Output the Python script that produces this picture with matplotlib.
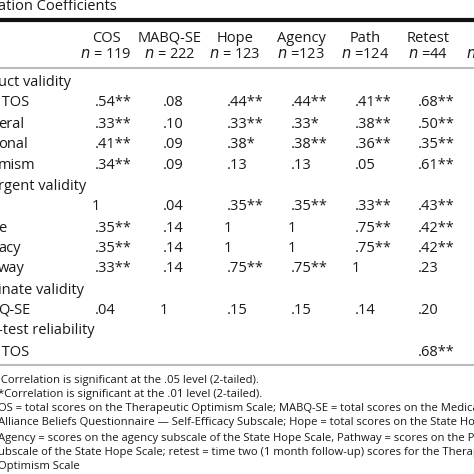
import matplotlib
matplotlib.use("Agg")
import matplotlib.pyplot as plt
from matplotlib.lines import Line2D

plt.rcParams['font.family'] = ['Open Sans', 'DejaVu Sans']

title = "ation Coefficients"
columns = ["COS", "MABQ-SE", "Hope", "Agency", "Path", "Retest"]
ns = ["119", "222", "123", "=123", "=124", "=44"]
row_labels = ["uct validity", " TOS", "eral", "onal", "mism", "rgent validity", "", "e", "acy", "way",
              "inate validity", "Q-SE", "-test reliability", " TOS"]
cos    = ["", ".54**", ".33**", ".41**", ".34**", "", "1", ".35**", ".35**", ".33**", "", ".04", "", ""]
mabq   = ["", ".08", ".10", ".09", ".09", "", ".04", ".14", ".14", ".14", "", "1", "", ""]
hope   = ["", ".44**", ".33**", ".38*", ".13", "", ".35**", "1", "1", ".75**", "", ".15", "", ""]
agency = ["", ".44**", ".33*", ".38**", ".13", "", ".35**", "1", "1", ".75**", "", ".15", "", ""]
path   = ["", ".41**", ".38**", ".36**", ".05", "", ".33**", ".75**", ".75**", "1", "", ".14", "", ""]
retest = ["", ".68**", ".50**", ".35**", ".61**", "", ".43**", ".42**", ".42**", ".23", "", ".20", "", ".68**"]
footnotes = [" Correlation is significant at the .05 level (2-tailed).",
             "*Correlation is significant at the .01 level (2-tailed).",
             "OS = total scores on the Therapeutic Optimism Scale; MABQ-SE = total scores on the Medication",
             "Alliance Beliefs Questionnaire \u2014 Self-Efficacy Subscale; Hope = total scores on the State Hope Scale",
             "Agency = scores on the agency subscale of the State Hope Scale, Pathway = scores on the Pathway",
             "ubscale of the State Hope Scale; retest = time two (1 month follow-up) scores for the Therapeutic",
             "Optimism Scale"]

W = H = 474
fig = plt.figure(figsize=(4.74, 4.74), dpi=100)
fig.patch.set_facecolor("white")

def T(x, y, s, **kw):
    fig.text(x / W, 1 - y / H, s, va="center", color="#1a1a1a", **kw)

def L(y, lw, color):
    fig.add_artist(Line2D([0, 1], [1 - y / H] * 2, lw=lw, color=color, transform=fig.transFigure))

T(-2, 7, title, fontsize=10.5)
L(20, 3.0, "#111111")
L(68, 1.5, "#bbbbbb")
L(365, 1.5, "#bbbbbb")

col_centers = [106, 170, 235, 301, 365, 428]
for cx, c, n in zip(col_centers, columns, ns):
    T(cx, 38, c, fontsize=10.5, ha="center")
    if n.startswith("="):
        T(cx, 54, r"$n$ " + n, fontsize=10.5, ha="center")
    else:
        T(cx, 54, r"$n$ = " + n, fontsize=10.5, ha="center")
T(466, 54, r"$n$", fontsize=10.5, ha="left")

row_y = [82, 103, 124, 145, 165, 187, 207, 228, 248, 269, 290, 310, 331, 352]
col_x = [95, 163, 227, 291, 355, 418]
for i, y in enumerate(row_y):
    T(-2, y, row_labels[i], fontsize=10.5, ha="left")
    for x, col in zip(col_x, [cos, mabq, hope, agency, path, retest]):
        v = col[i]
        if v == "1":
            x -= 3
        if v:
            T(x, y, v, fontsize=10.5, ha="left")

foot_y = [380, 394, 409, 423, 438, 452, 466]
for y, s in zip(foot_y, footnotes):
    T(-2, y, s, fontsize=8.1, ha="left")

fig.savefig("out.png", dpi=100, facecolor="white")
